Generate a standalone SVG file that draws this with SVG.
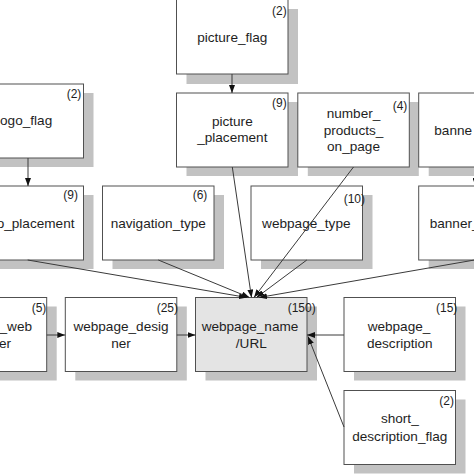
<svg xmlns="http://www.w3.org/2000/svg" width="474" height="474" viewBox="0 0 474 474">
<defs>
<style>
.sh{fill:#c2c2c2;stroke:none}
.bx{fill:#ffffff;stroke:#505050;stroke-width:1}
.hl{fill:#e4e4e4}
.lb{font-family:"Liberation Sans",Arial,sans-serif;font-size:13.6px;fill:#1e1e1e;text-anchor:middle}
.ct{font-family:"Liberation Sans",Arial,sans-serif;font-size:12px;fill:#1e1e1e}
.cn{stroke:#3a3a3a;stroke-width:1;fill:none;marker-end:url(#ah)}
</style>
<marker id="ah" markerWidth="8" markerHeight="6" refX="8" refY="3" orient="auto" markerUnits="userSpaceOnUse">
<path d="M0,0 L8,3 L0,6 z" fill="#111"/>
</marker>
</defs>
<rect width="474" height="474" fill="#ffffff"/>

<g id="node-picture_flag">
<rect class="sh" x="186.5" y="9" width="111.5" height="75"/>
<rect class="bx" x="176.5" y="-1" width="111.5" height="75"/>
<text class="lb" x="232.3" y="41.5">picture_flag</text>
<text class="ct" x="272" y="15">(2)</text>
</g>

<g id="node-logo_flag">
<rect class="sh" x="-18" y="93" width="111.5" height="74"/>
<rect class="bx" x="-28" y="84" width="111.5" height="74"/>
<text class="lb" x="24.6" y="125">logo_flag</text>
<text class="ct" x="66.7" y="98.3">(2)</text>
</g>

<g id="node-picture_placement">
<rect class="sh" x="186.5" y="102" width="111.5" height="74"/>
<rect class="bx" x="176.5" y="93" width="111.5" height="74"/>
<text class="lb" x="232.3" y="125.5">picture</text>
<text class="lb" x="232.3" y="141.8">_placement</text>
<text class="ct" x="272" y="107.3">(9)</text>
</g>

<g id="node-number_products_on_page">
<rect class="sh" x="307.8" y="102" width="111" height="74"/>
<rect class="bx" x="297.8" y="93" width="111.5" height="74"/>
<text class="lb" x="353.5" y="117.8">number_</text>
<text class="lb" x="353.5" y="134.5">products_</text>
<text class="lb" x="353.5" y="151.2">on_page</text>
<text class="ct" x="392.7" y="110.3">(4)</text>
</g>

<g id="node-banner_1">
<rect class="sh" x="428.7" y="102" width="111.5" height="74"/>
<rect class="bx" x="418.7" y="93" width="111.5" height="74"/>
<text class="ct" x="434.3" y="134.5" style="font-size:13.6px">banne</text>
</g>

<g id="node-logo_placement">
<rect class="sh" x="-18" y="195" width="111.5" height="74"/>
<rect class="bx" x="-28" y="186" width="111.5" height="74"/>
<text class="lb" x="26.5" y="227.5">logo_placement</text>
<text class="ct" x="63.3" y="198.6">(9)</text>
</g>

<g id="node-navigation_type">
<rect class="sh" x="112.5" y="195" width="111.5" height="74"/>
<rect class="bx" x="102.5" y="186" width="111.5" height="74"/>
<text class="lb" x="158.3" y="227.5">navigation_type</text>
<text class="ct" x="192.7" y="198.6">(6)</text>
</g>

<g id="node-webpage_type">
<rect class="sh" x="261" y="195" width="111.5" height="74"/>
<rect class="bx" x="251" y="186" width="111.5" height="74"/>
<text class="lb" x="306.3" y="227.5">webpage_type</text>
<text class="ct" x="343.7" y="202.6">(10)</text>
</g>

<g id="node-banner_2">
<rect class="sh" x="428.7" y="195" width="111.5" height="74"/>
<rect class="bx" x="418.7" y="186" width="111.5" height="74"/>
<text class="ct" x="429.7" y="227.5" style="font-size:13.6px">banner_</text>
</g>

<g id="node-web_designer">
<rect class="sh" x="-54.8" y="306.5" width="111.5" height="74"/>
<rect class="bx" x="-64.8" y="297.5" width="111.5" height="74"/>
<text class="lb" x="32" y="330.8" style="text-anchor:end">_web</text>
<text class="lb" x="11" y="347.5" style="text-anchor:end">er</text>
<text class="ct" x="31.7" y="312.3">(5)</text>
</g>

<g id="node-webpage_designer">
<rect class="sh" x="75.3" y="306.5" width="111.5" height="74"/>
<rect class="bx" x="65.3" y="297.5" width="111.5" height="74"/>
<text class="lb" x="121" y="330.8">webpage_desig</text>
<text class="lb" x="121" y="347.5">ner</text>
<text class="ct" x="156.7" y="312.3">(25)</text>
</g>

<g id="node-webpage_name_url">
<rect class="sh" x="205.5" y="306.5" width="111.5" height="74"/>
<rect class="bx hl" x="195.5" y="297.5" width="111.5" height="74"/>
<text class="lb" x="250" y="330.8">webpage_name</text>
<text class="lb" x="251.3" y="347.5">/URL</text>
<text class="ct" x="287.7" y="312">(150)</text>
</g>

<g id="node-webpage_description">
<rect class="sh" x="354" y="306.5" width="111.5" height="74"/>
<rect class="bx" x="344" y="297.5" width="111.5" height="74"/>
<text class="lb" x="399" y="330.8">webpage_</text>
<text class="lb" x="399.8" y="347.5">description</text>
<text class="ct" x="436" y="312.3">(15)</text>
</g>

<g id="node-short_description_flag">
<rect class="sh" x="354" y="399.5" width="111.5" height="74"/>
<rect class="bx" x="344" y="390.5" width="111.5" height="74"/>
<text class="lb" x="399.8" y="423.2">short_</text>
<text class="lb" x="399.8" y="440.5">description_flag</text>
<text class="ct" x="439.3" y="404.6">(2)</text>
</g>

<g id="connectors">
<line class="cn" x1="232" y1="74" x2="232" y2="93"/>
<line class="cn" x1="28" y1="158" x2="28" y2="186"/>
<line class="cn" x1="475.5" y1="167" x2="475.5" y2="186"/>
<line class="cn" x1="27.7" y1="260" x2="247" y2="297.5"/>
<line class="cn" x1="158.3" y1="260" x2="249.5" y2="297.5"/>
<line class="cn" x1="232.3" y1="167" x2="251.5" y2="297.5"/>
<line class="cn" x1="353.5" y1="167" x2="254" y2="297.5"/>
<line class="cn" x1="306.8" y1="260" x2="256.5" y2="297.5"/>
<line class="cn" x1="474.5" y1="260" x2="259" y2="297.5"/>
<line class="cn" x1="46.7" y1="335" x2="65.3" y2="335"/>
<line class="cn" x1="176.8" y1="335" x2="195.5" y2="335"/>
<line class="cn" x1="344" y1="335" x2="307" y2="335"/>
<line class="cn" x1="344" y1="427" x2="308" y2="336.5"/>
</g>
</svg>
